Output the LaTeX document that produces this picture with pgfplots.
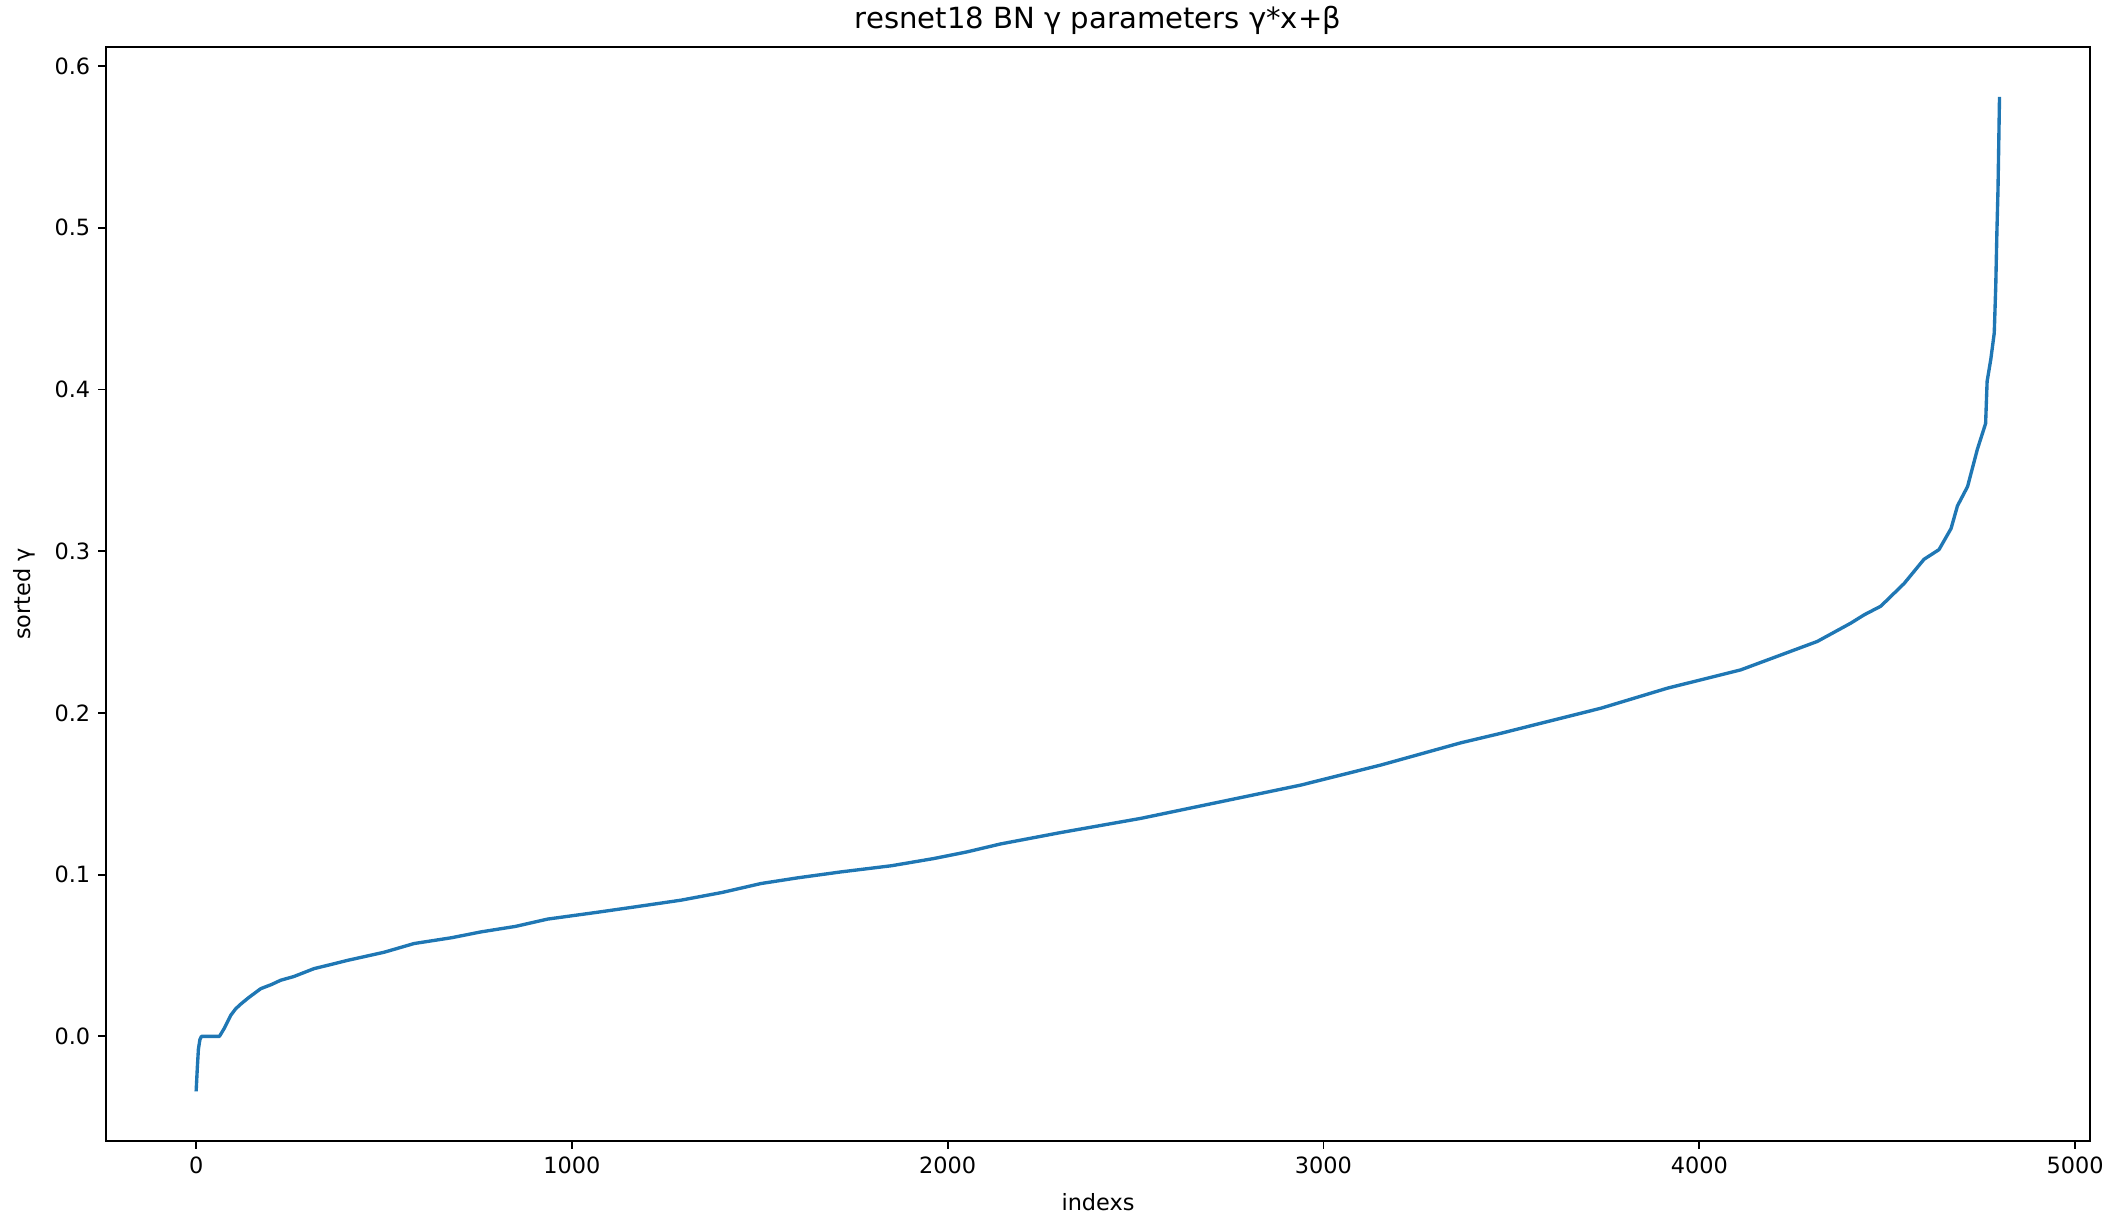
\documentclass[border=0pt]{standalone}
\usepackage{fontspec}
\setmainfont{DejaVu Sans}
\usepackage{pgfplots}
\pgfplotsset{compat=1.18}
\definecolor{mplblue}{HTML}{1F77B4}
\begin{document}
\begin{tikzpicture}
\useasboundingbox (-47.3pt,-37.05pt) rectangle (894.6pt,509.4pt);
\begin{axis}[
  at={(0,0)}, anchor=south west,
  scale only axis,
  width=885.7pt, height=488.4pt,
  xmin=-240, xmax=5040,
  ymin=-0.0648, ymax=0.6118,
  axis line style={line width=0.8pt},
  tick align=outside,
  tick style={line width=0.8pt, black},
  major tick length=3.5pt,
  xtick={0,1000,2000,3000,4000,5000},
  ytick={0,0.1,0.2,0.3,0.4,0.5,0.6},
  xtick pos=bottom, ytick pos=left,
  /pgf/number format/assume math mode=true,
  x tick label style={/pgf/number format/set thousands separator={}, font=\fontsize{10}{12}\selectfont},
  y tick label style={/pgf/number format/fixed, /pgf/number format/fixed zerofill, /pgf/number format/precision=1, font=\fontsize{10}{12}\selectfont},
  scaled y ticks=false,
  title={resnet18 BN γ parameters γ*x+β},
  title style={font=\fontsize{13}{15}\selectfont, at={(axis description cs:0.5,1.0045)}, anchor=base},
  xlabel={indexs},
  ylabel={sorted γ},
  xlabel style={font=\fontsize{10}{12}\selectfont, at={(axis description cs:0.5,-0.0557)}, anchor=center},
  ylabel style={font=\fontsize{10}{12}\selectfont, at={(axis description cs:-0.0413,0.5)}, anchor=center, rotate=0},
]
\addplot[mplblue, line width=1.5pt, line join=round] coordinates {
(0,-0.034) (3,-0.020) (6,-0.008) (10,-0.002) (14,0.0) (40,0.0) (62,0.0)
(75,0.005) (92,0.013) (105,0.017) (119,0.020) (140,0.024) (172,0.0295)
(200,0.032) (225,0.0347) (260,0.037) (314,0.0419) (360,0.0445) (403,0.047)
(500,0.052) (580,0.0574) (680,0.061) (758,0.0646) (850,0.068) (935,0.0725)
(1076,0.077) (1157,0.0797) (1290,0.0842) (1400,0.089) (1503,0.0945)
(1600,0.098) (1716,0.1017) (1850,0.1055) (1964,0.110) (2050,0.114)
(2141,0.119) (2300,0.126) (2514,0.1348) (2727,0.1451) (2940,0.1554)
(3153,0.1678) (3365,0.1815) (3472,0.1874) (3578,0.1936) (3738,0.2029)
(3915,0.2153) (4110,0.2266) (4314,0.2442) (4403,0.2555) (4439,0.2607)
(4483,0.2660) (4545,0.2800) (4598,0.2950) (4638,0.3010) (4670,0.3140)
(4687,0.3280) (4714,0.3400) (4740,0.3630) (4762,0.3790) (4766,0.4050)
(4776,0.4190) (4785,0.4350) (4789,0.4640) (4792,0.4970) (4795,0.5240)
(4799,0.5810)
};
\end{axis}
\end{tikzpicture}
\end{document}
